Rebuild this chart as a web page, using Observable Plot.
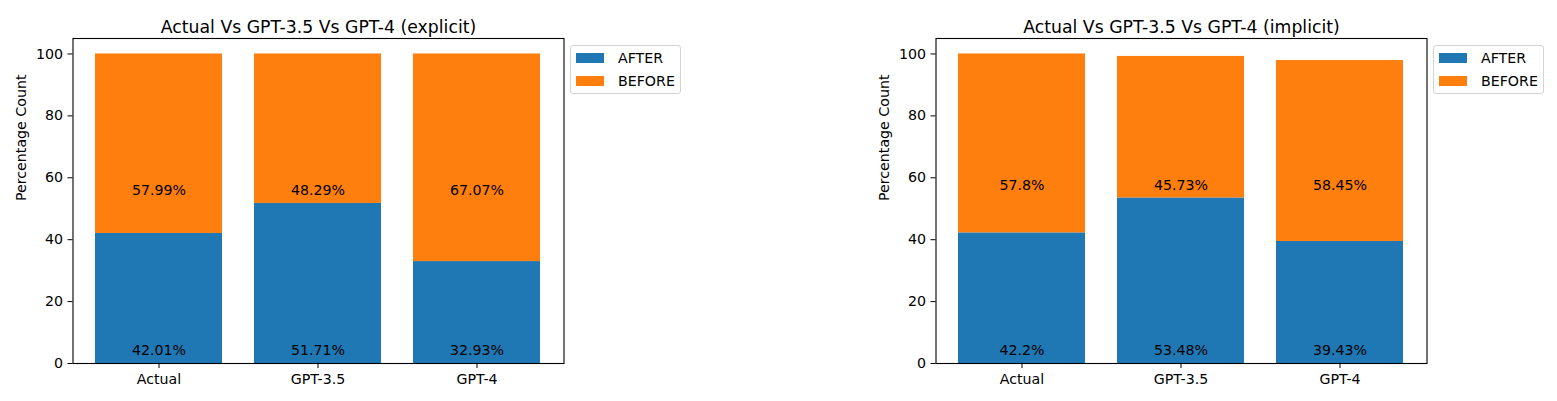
<!DOCTYPE html>
<html>
<head>
<meta charset="utf-8">
<script src="https://cdn.jsdelivr.net/npm/d3@7"></script>
<script src="https://cdn.jsdelivr.net/npm/@observablehq/plot@0.6"></script>
<style>
  html, body { margin: 0; padding: 0; background: white; }
  #root { position: relative; width: 1557px; height: 401px; overflow: hidden; font-family: "DejaVu Sans", sans-serif; }
  .panel { position: absolute; top: 0; }
  .legend { position: absolute; border: 1px solid #d3d3d3; border-radius: 3px; background: white; box-sizing: border-box; }
  .legend .sw { position: absolute; width: 28px; height: 10px; }
  .legend .lab { position: absolute; font-size: 13.9px; color: black; line-height: 1; }
</style>
</head>
<body>
<div id="root"></div>
<script>
const categories = ["Actual", "GPT-3.5", "GPT-4"];
const explicitAfter = [42.01, 51.71, 32.93];
const explicitBefore = [57.99, 48.29, 67.07];
const implicitAfter = [42.2, 53.48, 39.43];
const implicitBefore = [57.8, 45.73, 58.45];
const seriesNames = ["AFTER", "BEFORE"];
const seriesColors = ["#1f77b4", "#ff7f0e"];
const yTicks = [0, 20, 40, 60, 80, 100];
const titles = ["Actual Vs GPT-3.5 Vs GPT-4 (explicit)", "Actual Vs GPT-3.5 Vs GPT-4 (implicit)"];

const root = document.getElementById("root");

function makePanel(title, after, before, beforeLabelY, left) {
  const rows = categories.flatMap((c, i) => [
    {model: c, type: "AFTER", value: after[i]},
    {model: c, type: "BEFORE", value: before[i]}
  ]);
  const W = 694, ML = 72.5, axesW = 491;
  const chart = Plot.plot({
    width: W, height: 401,
    marginLeft: ML, marginRight: W - ML - axesW, marginTop: 38, marginBottom: 38,
    style: {fontFamily: "DejaVu Sans", fontSize: "13.9px", background: "white", color: "black"},
    x: {domain: categories, paddingInner: 0.2, paddingOuter: 0.14, axis: null},
    y: {domain: [0, 105], axis: null},
    color: {domain: seriesNames, range: seriesColors},
    marks: [
      Plot.barY(rows, {x: "model", y: "value", fill: "type", order: seriesNames}),
      Plot.text(categories, {x: d => d, y: 4.3, text: (d, i) => after[i] + "%", fontSize: 14.2, fill: "black"}),
      Plot.text(categories, {x: d => d, y: beforeLabelY, text: (d, i) => before[i] + "%", fontSize: 14.2, fill: "black"}),
      Plot.frame({stroke: "black", strokeWidth: 1.1}),
      Plot.axisY({ticks: yTicks, tickSize: 5, tickPadding: 5, label: null, fontSize: 14.2, stroke: "black", fill: "black"}),
      Plot.axisX({tickSize: 5, tickPadding: 5, label: null, fontSize: 14.2, stroke: "black", fill: "black"}),
      Plot.text([title], {frameAnchor: "top", dy: -18, fontSize: 17.3, fill: "black"}),
      Plot.text(["Percentage Count"], {frameAnchor: "left", dx: -52, rotate: -90, fontSize: 14.2, fill: "black"})
    ]
  });
  const wrap = document.createElement("div");
  wrap.className = "panel";
  wrap.style.left = left + "px";
  wrap.appendChild(chart);

  const lg = d3.select(wrap).append("div").attr("class", "legend")
    .style("left", "570px").style("top", "45px").style("width", "111px").style("height", "49px");
  seriesNames.forEach((name, i) => {
    const cy = 12.3 + i * 22.7;
    lg.append("div").attr("class", "sw").style("left", "5px").style("top", (cy - 5) + "px").style("background", seriesColors[i]);
    lg.append("div").attr("class", "lab").style("left", "47px").style("top", (cy - 7.5) + "px").style("font-size", "14.2px").text(name);
  });
  root.appendChild(wrap);
}

makePanel(titles[0], explicitAfter, explicitBefore, 56, 0);
makePanel(titles[1], implicitAfter, implicitBefore, 57.6, 863);
</script>
</body>
</html>
